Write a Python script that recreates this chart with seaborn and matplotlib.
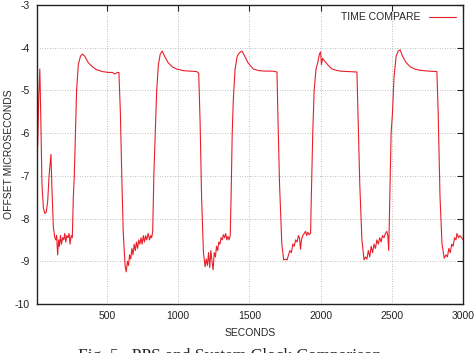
import numpy as np
import pandas as pd
import matplotlib.pyplot as plt
import seaborn as sns

# values (seconds, offset in microseconds)
seconds = [
    15, 22, 30, 36, 45, 55, 65, 75, 85, 95, 108, 115, 125, 135, 142, 148, 155, 162, 168, 175,
    182, 190, 198, 205, 212, 220, 228, 235, 242, 250, 258, 265, 272, 280, 288, 300, 315, 330,
    345, 370, 400, 430, 470, 510, 540, 555, 565, 575, 585, 595, 605, 615, 628, 636, 645, 652,
    660, 668, 676, 684, 692, 700, 708, 716, 724, 732, 740, 748, 756, 764, 772, 780, 790, 800,
    808, 815, 822, 830, 840, 850, 862, 875, 889, 905, 930, 960, 990, 1040, 1090, 1131, 1145,
    1155, 1165, 1178, 1190, 1198, 1206, 1214, 1222, 1230, 1238, 1246, 1254, 1262, 1270, 1278,
    1286, 1294, 1302, 1310, 1318, 1326, 1334, 1342, 1350, 1358, 1366, 1372, 1380, 1388, 1400,
    1415, 1430, 1448, 1465, 1490, 1528, 1570, 1620, 1665, 1694, 1700, 1712, 1728, 1741, 1755,
    1765, 1775, 1785, 1795, 1805, 1815, 1825, 1835, 1845, 1852, 1859, 1866, 1875, 1885, 1894,
    1902, 1910, 1920, 1930, 1935, 1945, 1955, 1968, 1980, 1992, 2000, 2006, 2014, 2025, 2050,
    2080, 2110, 2140, 2200, 2255, 2262, 2275, 2290, 2305, 2315, 2325, 2335, 2345, 2355, 2365,
    2375, 2385, 2395, 2405, 2415, 2425, 2434, 2445, 2455, 2465, 2472, 2478, 2486, 2495, 2505,
    2515, 2530, 2545, 2558, 2575, 2600, 2630, 2660, 2700, 2760, 2816, 2825, 2838, 2852, 2868,
    2880, 2890, 2900, 2910, 2920, 2930, 2940, 2950, 2957, 2968, 2978, 2990, 3000,
]
offset_us = [
    -6.3, -5.2, -4.5, -5.5, -7.2, -7.75, -7.88, -7.85, -7.6, -7.0, -6.5, -7.3, -8.2, -8.45, -8.5,
    -8.4, -8.85, -8.5, -8.65, -8.4, -8.6, -8.45, -8.5, -8.35, -8.55, -8.4, -8.45, -8.35, -8.6,
    -8.4, -8.45, -7.5, -7.0, -6.0, -5.0, -4.4, -4.2, -4.15, -4.2, -4.35, -4.45, -4.52, -4.56,
    -4.58, -4.58, -4.62, -4.6, -4.58, -4.58, -5.5, -7.0, -8.3, -9.1, -9.25, -9.0, -9.1, -8.85,
    -8.95, -8.7, -8.85, -8.6, -8.75, -8.55, -8.7, -8.5, -8.6, -8.45, -8.6, -8.4, -8.55, -8.4,
    -8.5, -8.35, -8.5, -8.4, -8.45, -8.3, -7.0, -6.0, -5.0, -4.4, -4.15, -4.08, -4.2, -4.35,
    -4.45, -4.5, -4.54, -4.55, -4.56, -4.6, -5.8, -7.5, -8.8, -9.13, -8.95, -9.1, -8.8, -9.15,
    -8.75, -9.0, -9.2, -8.8, -8.9, -8.65, -8.75, -8.55, -8.6, -8.45, -8.5, -8.38, -8.45, -8.35,
    -8.5, -8.42, -8.5, -8.4, -7.5, -6.0, -5.2, -4.5, -4.2, -4.12, -4.08, -4.18, -4.35, -4.5,
    -4.54, -4.55, -4.55, -4.57, -5.5, -7.2, -8.6, -8.97, -8.95, -8.97, -8.85, -8.75, -8.8, -8.6,
    -8.65, -8.5, -8.55, -8.4, -8.45, -8.72, -8.5, -8.4, -8.35, -8.3, -8.4, -8.32, -8.38, -8.35,
    -7.5, -6.0, -5.0, -4.5, -4.35, -4.15, -4.1, -4.4, -4.25, -4.3, -4.4, -4.5, -4.53, -4.55,
    -4.56, -4.57, -5.5, -7.2, -8.5, -8.97, -8.9, -8.95, -8.75, -8.9, -8.65, -8.8, -8.6, -8.7,
    -8.5, -8.6, -8.45, -8.55, -8.4, -8.45, -8.35, -8.3, -8.4, -8.75, -7.5, -6.0, -5.5, -4.7,
    -4.2, -4.08, -4.05, -4.2, -4.35, -4.45, -4.5, -4.53, -4.55, -4.56, -5.5, -7.5, -8.6, -8.93,
    -8.85, -8.9, -8.7, -8.8, -8.6, -8.65, -8.45, -8.5, -8.35, -8.45, -8.4, -8.45, -8.5,
]
xticks = [500, 1000, 1500, 2000, 2500, 3000]
yticks = [-3, -4, -5, -6, -7, -8, -9, -10]

df = pd.DataFrame({"seconds": seconds, "offset": offset_us})

sns.set_style("white")
plt.rcParams["font.family"] = ["Liberation Sans", "DejaVu Sans"]

fig = plt.figure(figsize=(4.74, 3.53), dpi=100)
ax = fig.add_axes([0.078, 0.139, 0.899, 0.847])

sns.lineplot(data=df, x="seconds", y="offset", sort=False, estimator=None,
             color="#e8202a", linewidth=0.8, label="TIME COMPARE", ax=ax)

ax.set_xlim(10, 3000)
ax.set_ylim(-10, -3)
ax.set_xticks(xticks)
ax.set_yticks(yticks)
ax.set_xticklabels([str(t) for t in xticks])
ax.set_yticklabels([str(t) for t in yticks])
ax.grid(True, color="#aaaaaa", linestyle=(0, (1, 2)), linewidth=0.6)
ax.tick_params(direction="in", top=True, right=True, length=4, width=0.8,
               labelsize=7.5, colors="#222222", pad=5)
for s in ax.spines.values():
    s.set_linewidth(1.0)
    s.set_color("#222222")

ax.set_xlabel("SECONDS", fontsize=7.5, labelpad=5)
ax.set_ylabel("OFFSET MICROSECONDS", fontsize=7.5, labelpad=1)

leg = ax.legend(loc="upper right", frameon=False, fontsize=7.5, markerfirst=False,
                handlelength=2.6, borderaxespad=0.3)

# figure caption, cut by the bottom edge as in the source image
fig.text(0.485, 0.014, "Fig. 5.  PPS and System Clock Comparison", ha="center", va="top",
         fontsize=12.5, family=["Liberation Serif", "DejaVu Serif"])

fig.savefig("out.png", dpi=100)
